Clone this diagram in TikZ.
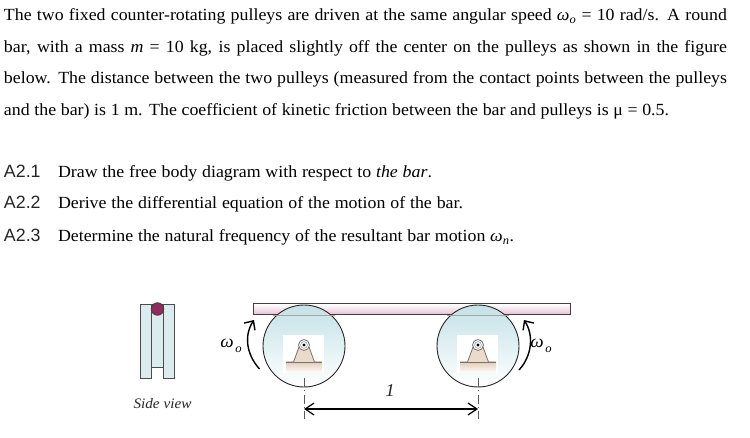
\documentclass[tikz,border=0pt]{standalone}
\usepackage{fontspec}
\setmainfont[FakeStretch=1.05]{Liberation Serif}
\newfontfamily\labelfont{Liberation Sans}
\usetikzlibrary{arrows.meta}
\newcommand{\om}{\textit{ω}}
\newcommand{\omo}{\textit{ω}\hspace{1.5pt}\raisebox{-4.5pt}{\textit{\fontsize{12}{12}\selectfont o}}}
\tikzset{
 x=1pt,y=-1pt,
 bodytext/.style={anchor=base west,inner sep=0pt,outer sep=0pt,font=\fontsize{17}{18}\selectfont},
 qlabel/.style={anchor=base west,inner sep=0pt,outer sep=0pt,font=\labelfont\fontsize{17.8}{18}\selectfont,text=black!85},
 figlabel/.style={inner sep=0pt,font=\itshape\fontsize{14.5}{16}\selectfont,text=black!85},
 pulley/.style={circle,minimum size=82pt,inner sep=0pt,draw=black!85,line width=0.9pt,bottom color=white},
 panel/.style={draw=black!70,line width=0.9pt,fill=sidefill},
 rotarrow/.style={draw=black,line width=1.4pt,-{Straight Barb[length=7pt,width=13pt]}},
 dimarrow/.style={draw=black,line width=1.2pt,{Straight Barb[length=9pt,width=12pt]}-{Straight Barb[length=9pt,width=12pt]}},
 axisline/.style={draw=black!65,line width=0.9pt,dash pattern=on 9pt off 3pt on 1.5pt off 3pt},
}
\definecolor{sidefill}{HTML}{DCECEE}
\definecolor{ballfill}{HTML}{8F2A5F}
\definecolor{barpink}{HTML}{E6BDD2}
\definecolor{pulleytop}{HTML}{C4E2E7}
\definecolor{basefill}{HTML}{E3CDB8}
\definecolor{towerfill}{HTML}{EADBCB}
\newcommand{\pulleymount}[1]{%
 \fill[white] (#1-21,335) rectangle (#1+20,373);
 \shade[top color=basefill,bottom color=white] (#1-18,362) rectangle (#1+18,373);
 \draw[draw=black!55,line width=0.8pt] (#1-18,362) -- (#1+18,362);
 \draw[draw=black!55,line width=0.8pt,fill=towerfill] (#1-10.5,362) -- (#1-5,347) -- (#1+5,347) -- (#1+10.5,362);
 \draw[draw=black!55,line width=0.8pt,fill=white] (#1,345) circle (5.5);
 \draw[draw=black!45,line width=0.5pt] (#1,345) circle (3.4);
 \fill[black] (#1,345) circle (1.6);
}
\begin{document}
\begin{tikzpicture}
\useasboundingbox (0,0) rectangle (750,438);
% problem text
\node[bodytext] (l1) at (4,21) {\makebox[723pt][s]{The two fixed counter-rotating pulleys are driven at the same angular speed \om\textsubscript{\textit{o}} = 10 rad/s. A round}};
\node[bodytext] (l2) at (4,53) {\makebox[723pt][s]{bar, with a mass \textit{m} = 10 kg, is placed slightly off the center on the pulleys as shown in the figure}};
\node[bodytext] (l3) at (4,84) {\makebox[723pt][s]{below. The distance between the two pulleys (measured from the contact points between the pulleys}};
\node[bodytext] (l4) at (4,116) {\makebox[665pt][s]{and the bar) is 1 m. The coefficient of kinetic friction between the bar and pulleys is μ = 0.5.}};
% questions
\node[qlabel] (q1) at (4,178) {A2.1};
\node[qlabel] (q2) at (4,209) {A2.2};
\node[qlabel] (q3) at (4,242) {A2.3};
\node[bodytext] (a1) at (58,178) {\makebox[374pt][s]{Draw the free body diagram with respect to \textit{the bar}.}};
\node[bodytext] (a2) at (58,209) {\makebox[405pt][s]{Derive the differential equation of the motion of the bar.}};
\node[bodytext] (a3) at (58,242) {\makebox[456pt][s]{Determine the natural frequency of the resultant bar motion \om\textsubscript{\textit{n}}.}};
% side view
\draw[panel] (140,304) rectangle (151,378);
\draw[panel] (163,304) rectangle (174,378);
\draw[panel] (151,304) rectangle (163,367);
\node[circle,minimum size=12.5pt,inner sep=0pt,draw=black!75,line width=0.8pt,fill=ballfill] (ball) at (157.5,309) {};
\node[figlabel] (sv) at (162.5,404) {Side view};
% bar
\draw[draw=black!75,line width=1pt,top color=white,bottom color=barpink] (253,304) rectangle (570.5,315);
% pulleys
\node[pulley,top color=pulleytop] (p1) at (304,346) {};
\node[pulley,top color=pulleytop] (p2) at (478,346) {};
\draw[black!35,line width=0.8pt] (273,315) -- (335,315);
\draw[black!35,line width=0.8pt] (447,315) -- (509,315);
\pulleymount{304}
\pulleymount{478}
% rotation arrows
\coordinate (r1s) at (259.5,369);
\coordinate (r1e) at (254,320);
\coordinate (r2s) at (519,370);
\coordinate (r2e) at (524,320);
\draw[rotarrow] (r1s) .. controls (246,354) and (244,335) .. (r1e);
\draw[rotarrow] (r2s) .. controls (532,356) and (534,335) .. (r2e);
\node[inner sep=0pt,font=\fontsize{18}{20}\selectfont] (w1) at (231,346) {\omo};
\node[inner sep=0pt,font=\fontsize{18}{20}\selectfont] (w2) at (541,346) {\omo};
% dimension
\coordinate (a1t) at (304,378);
\coordinate (a1b) at (304,419);
\coordinate (a2t) at (478,378);
\coordinate (a2b) at (478,419);
\coordinate (d1) at (304,409);
\coordinate (d2) at (478,409);
\draw[axisline] (a1t) -- (a1b);
\draw[axisline] (a2t) -- (a2b);
\draw[dimarrow] (d1) -- (d2);
\node[figlabel,font=\itshape\fontsize{18}{18}\selectfont] (dl) at (390,391) {1};
\end{tikzpicture}
\end{document}
